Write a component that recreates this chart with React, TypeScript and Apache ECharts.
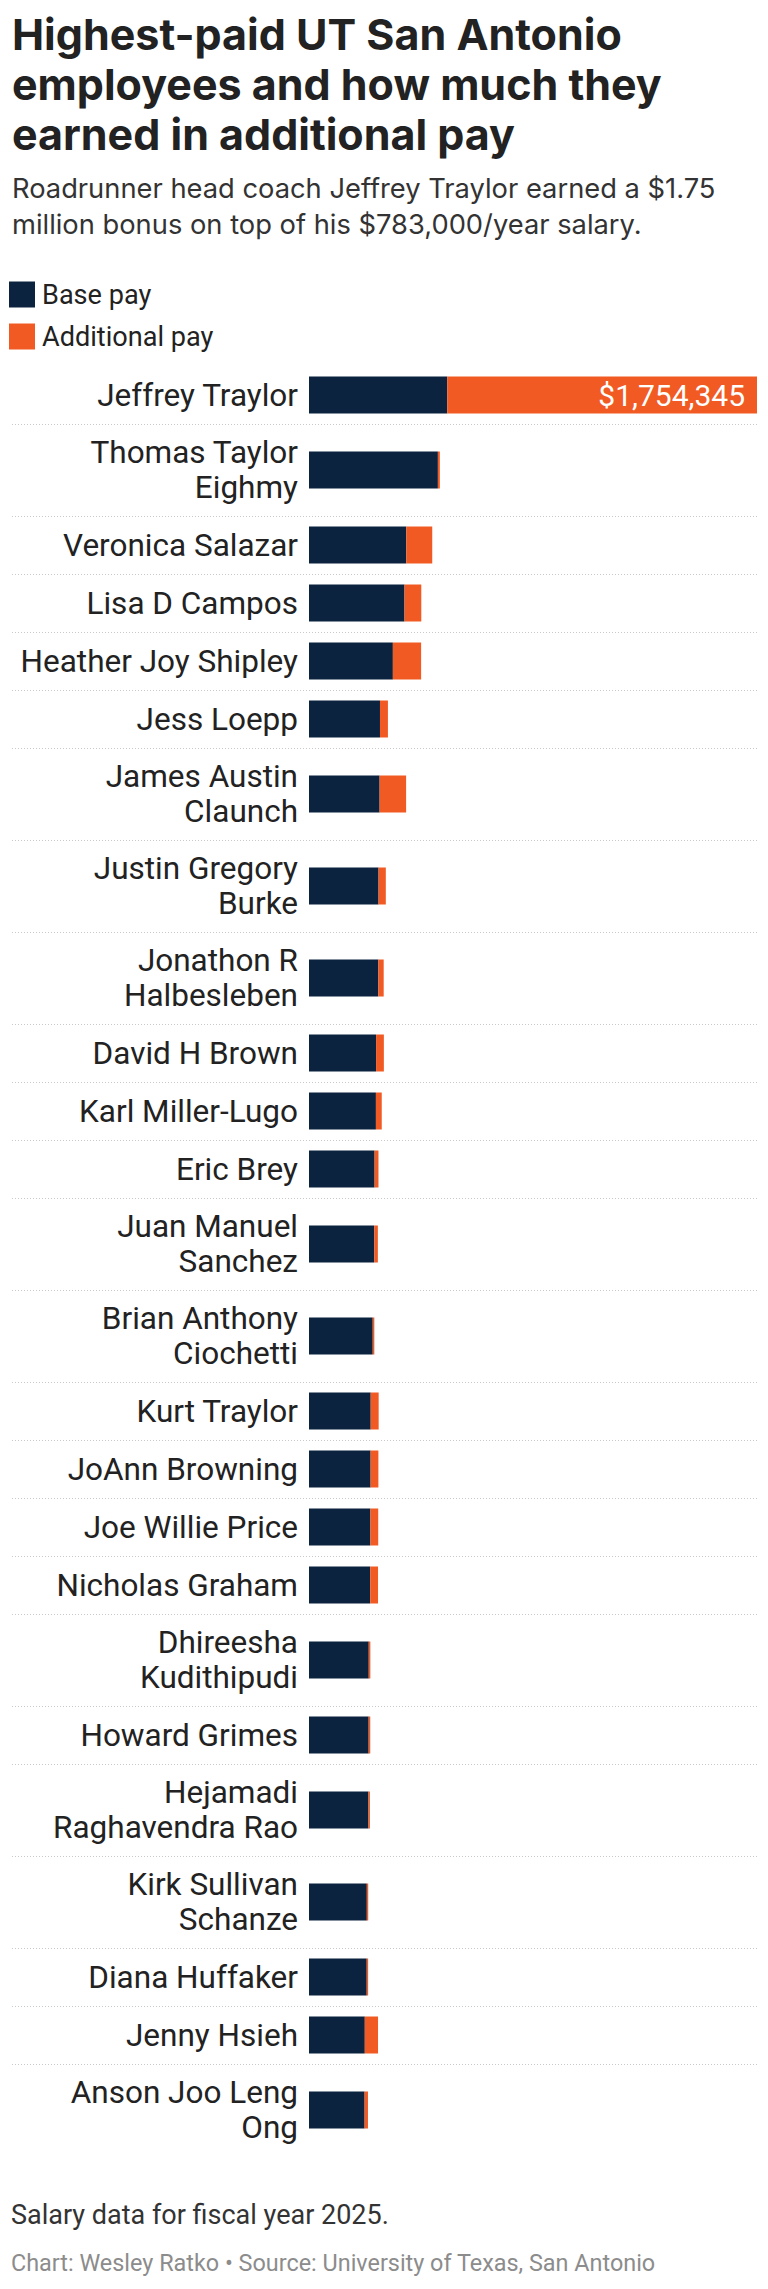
import React, { useEffect, useRef } from "react";
import * as echarts from "echarts";

// ---- data ----
const names = [
  "Jeffrey Traylor",
  "Thomas Taylor\nEighmy",
  "Veronica Salazar",
  "Lisa D Campos",
  "Heather Joy Shipley",
  "Jess Loepp",
  "James Austin\nClaunch",
  "Justin Gregory\nBurke",
  "Jonathon R\nHalbesleben",
  "David H Brown",
  "Karl Miller-Lugo",
  "Eric Brey",
  "Juan Manuel\nSanchez",
  "Brian Anthony\nCiochetti",
  "Kurt Traylor",
  "JoAnn Browning",
  "Joe Willie Price",
  "Nicholas Graham",
  "Dhireesha\nKudithipudi",
  "Howard Grimes",
  "Hejamadi\nRaghavendra Rao",
  "Kirk Sullivan\nSchanze",
  "Diana Huffaker",
  "Jenny Hsieh",
  "Anson Joo Leng\nOng",
];

const basePay = [
  783000, 730000, 551000, 541000, 475000, 402000, 400000, 394000, 393000,
  380000, 379000, 371500, 370000, 361000, 349500, 349000, 348000, 347000,
  338500, 338000, 337000, 327500, 327000, 316000, 315000,
];

const additionalPay = [
  1754345, 11000, 147000, 95000, 160000, 45000, 150000, 41000, 30000, 44000,
  33000, 22000, 20000, 9000, 45000, 44000, 44000, 44000, 9000, 9000, 8000,
  8000, 8000, 75000, 19000,
];

const legendLabels = ["Base pay", "Additional pay"];

const titleText =
  "Highest-paid UT San Antonio\nemployees and how much they\nearned in additional pay";
const subtitleText =
  "Roadrunner head coach Jeffrey Traylor earned a $1.75\nmillion bonus on top of his $783,000/year salary.";
const noteText = "Salary data for fiscal year 2025.";
const creditText =
  "Chart: Wesley Ratko \u2022 Source: University of Texas, San Antonio";

// ---- layout / style ----
const NAVY = "#0C2340";
const ORANGE = "#F15A22";
const ROW_TOP = 366;
const SINGLE_H = 58;
const DOUBLE_H = 92;
const BAR_LEFT = 309;
const BAR_RIGHT = 757;
const BAR_W = 37;

function fmtMoney(v: number) {
  return "$" + Math.round(v).toLocaleString("en-US");
}

export default function App() {
  const ref = useRef<HTMLDivElement>(null);

  useEffect(() => {
    if (!ref.current) return;
    const chart = echarts.init(ref.current, undefined, { renderer: "svg" });

    const totals = basePay.map((b, i) => b + additionalPay[i]);
    const maxTotal = Math.max(...totals);
    const maxAddIdx = additionalPay.indexOf(Math.max(...additionalPay));

    let y = ROW_TOP;
    const rows = names.map((n) => {
      const h = n.includes("\n") ? DOUBLE_H : SINGLE_H;
      const r = { top: y, h };
      y += h;
      return r;
    });

    const grid = rows.map((r) => ({
      left: BAR_LEFT,
      top: r.top,
      width: BAR_RIGHT - BAR_LEFT,
      height: r.h,
      containLabel: false,
    }));

    const xAxis = rows.map((_, i) => ({
      type: "value",
      gridIndex: i,
      min: 0,
      max: maxTotal,
      show: false,
    }));

    const yAxis = rows.map((_, i) => ({
      type: "category",
      gridIndex: i,
      data: [names[i]],
      axisLine: { show: false },
      axisTick: { show: false },
      splitLine: { show: false },
      axisLabel: {
        margin: 11,
        fontSize: 31.5,
        lineHeight: 35,
        fontFamily: "Roboto",
        color: "#222222",
        align: "right",
      },
    }));

    const series: any[] = [];
    rows.forEach((_, i) => {
      series.push({
        type: "bar",
        name: legendLabels[0],
        xAxisIndex: i,
        yAxisIndex: i,
        stack: "s" + i,
        barWidth: BAR_W,
        data: [basePay[i]],
        itemStyle: { color: NAVY },
        silent: true,
      });
      series.push({
        type: "bar",
        name: legendLabels[1],
        xAxisIndex: i,
        yAxisIndex: i,
        stack: "s" + i,
        barWidth: BAR_W,
        data: [additionalPay[i]],
        itemStyle: { color: ORANGE },
        silent: true,
        label: {
          show: i === maxAddIdx,
          position: "insideRight",
          distance: 12,
          color: "#ffffff",
          fontSize: 30,
          fontFamily: "Roboto",
          formatter: (p: any) => fmtMoney(p.value),
        },
      });
    });

    const graphic: any[] = rows.slice(0, rows.length - 1).map((r) => ({
      type: "line",
      silent: true,
      shape: { x1: 12, y1: r.top + r.h + 0.5, x2: BAR_RIGHT, y2: r.top + r.h + 0.5 },
      style: { stroke: "#c9c9c9", lineWidth: 1, lineDash: [1, 2] },
    }));

    chart.setOption({
      animation: false,
      title: [
        {
          text: titleText,
          left: 12,
          top: 9,
          padding: 0,
          textStyle: {
            fontFamily: "Inter",
            fontWeight: 700,
            fontSize: 43,
            lineHeight: 50,
            color: "#222222",
          },
        },
        {
          text: subtitleText,
          left: 12,
          top: 170,
          padding: 0,
          textStyle: {
            fontFamily: "Inter",
            fontWeight: 400,
            fontSize: 27.3,
            lineHeight: 36,
            color: "#333333",
          },
        },
        {
          text: noteText,
          left: 11,
          top: 2200,
          padding: 0,
          textStyle: {
            fontFamily: "Roboto",
            fontWeight: 400,
            fontSize: 27,
            lineHeight: 30,
            color: "#333333",
          },
        },
        {
          text: creditText,
          left: 11,
          top: 2248,
          padding: 0,
          textStyle: {
            fontFamily: "Roboto",
            fontWeight: 400,
            fontSize: 23.4,
            lineHeight: 30,
            color: "#8c8c8c",
          },
        },
      ],
      legend: {
        data: legendLabels,
        orient: "vertical",
        left: 9,
        top: 281,
        itemWidth: 26,
        itemHeight: 26,
        itemGap: 15,
        icon: "rect",
        padding: 0,
        selectedMode: false,
        textStyle: {
          fontFamily: "Roboto",
          fontSize: 27.1,
          color: "#222222",
          padding: [0, 0, 0, 2],
        },
      },
      grid,
      xAxis,
      yAxis,
      series,
      graphic,
    });

    return () => chart.dispose();
  }, []);

  return (
    <div
      ref={ref}
      style={{ position: "absolute", left: 0, top: 0, width: 768, height: 2289, background: "#ffffff" }}
    />
  );
}
